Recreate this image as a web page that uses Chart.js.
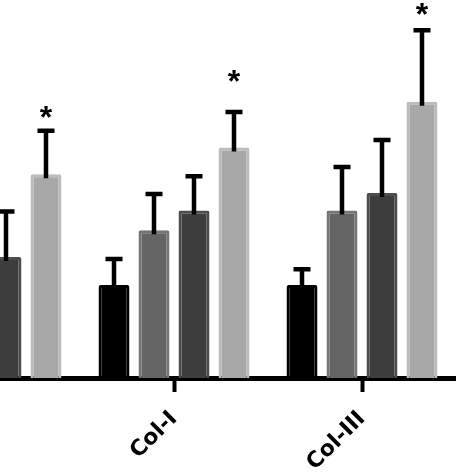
<!DOCTYPE html>
<html>
<head>
<meta charset="utf-8">
<script src="https://cdn.jsdelivr.net/npm/chart.js@4.4.1/dist/chart.umd.min.js"></script>
<style>
  html, body { margin: 0; padding: 0; background: #fff; overflow: hidden; }
  body { width: 474px; height: 474px; position: relative; }
  #wrap { position: absolute; left: -108px; top: 0; width: 564px; height: 474px; }
</style>
</head>
<body>
<div id="wrap"><canvas id="chart"></canvas></div>
<script>
// categories (first group is cropped off the left edge)
const categories = ['Runx2', 'Col-I', 'Col-III'];

// relative expression (control = 1)
const blackVals = [1.00, 1.00, 1.00];
const midVals   = [1.40, 1.59, 1.80];
const darkVals  = [1.30, 1.80, 1.99];
const lightVals = [2.19, 2.48, 2.97];

// upper error bars
const blackErr = [0.20, 0.28, 0.17];
const midErr   = [0.35, 0.39, 0.47];
const darkErr  = [0.49, 0.37, 0.57];
const lightErr = [0.47, 0.38, 0.77];

// asterisk heights above the light bars
const lightStars = [2.84, 3.22, 3.94];

const yMax = 4.065;

const errorBars = {
  id: 'errorBars',
  afterDatasetsDraw(chart) {
    const ctx = chart.ctx;
    const y = chart.scales.y;
    ctx.save();
    ctx.strokeStyle = '#000';
    ctx.lineWidth = 4.5;
    chart.data.datasets.forEach((ds, i) => {
      const meta = chart.getDatasetMeta(i);
      meta.data.forEach((bar, j) => {
        const top = y.getPixelForValue(ds.data[j] + ds.errors[j]);
        ctx.beginPath();
        ctx.moveTo(bar.x, bar.y + 4);
        ctx.lineTo(bar.x, top);
        ctx.moveTo(bar.x - 8.5, top);
        ctx.lineTo(bar.x + 8.5, top);
        ctx.stroke();
        if (ds.stars) {
          ctx.fillStyle = '#000';
          ctx.font = 'bold 32px "Liberation Sans", Arial, sans-serif';
          ctx.textAlign = 'center';
          ctx.textBaseline = 'middle';
          ctx.fillText('*', bar.x, y.getPixelForValue(ds.stars[j]) + 5);
        }
      });
    });
    ctx.restore();
  }
};

function barSet(data, errors, fill, edge) {
  return {
    data, errors,
    backgroundColor: fill,
    borderColor: edge,
    borderWidth: 3,
    borderRadius: 2,
    borderSkipped: 'bottom',
    categoryPercentage: 0.851,
    barPercentage: 0.775
  };
}

const datasets = [
  barSet(blackVals, blackErr, '#000000', '#000000'),
  barSet(midVals, midErr, '#646464', '#757575'),
  barSet(darkVals, darkErr, '#3d3d3d', '#4d4d4d'),
  barSet(lightVals, lightErr, '#a8a8a8', '#bcbcbc')
];
datasets[3].stars = lightStars;

new Chart(document.getElementById('chart'), {
  type: 'bar',
  data: { labels: categories, datasets },
  options: {
    responsive: true,
    maintainAspectRatio: false,
    animation: false,
    layout: { padding: 0 },
    plugins: { legend: { display: false }, tooltip: { enabled: false } },
    scales: {
      x: {
        z: 1,
        border: { display: true, color: '#000', width: 5 },
        grid: {
          display: true,
          drawOnChartArea: false,
          drawTicks: true,
          offset: false,
          tickLength: 14,
          tickWidth: 4,
          tickColor: '#000'
        },
        ticks: {
          color: '#000',
          minRotation: 45,
          maxRotation: 45,
          padding: 14,
          font: { family: '"DejaVu Sans", sans-serif', size: 22, weight: 'bold' }
        },
        afterFit(scale) {
          scale.height = 96;
          scale.paddingLeft = 0;
          scale.paddingRight = 0;
        }
      },
      y: {
        display: false,
        min: 0,
        max: yMax
      }
    }
  },
  plugins: [errorBars]
});
</script>
</body>
</html>
